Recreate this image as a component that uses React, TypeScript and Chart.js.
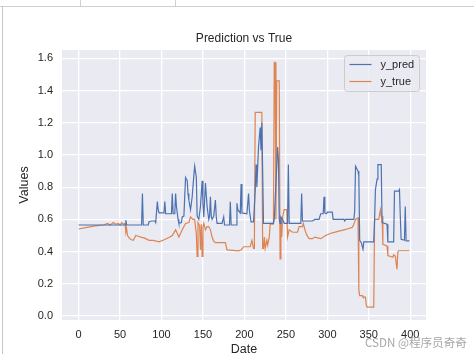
import React, { useEffect, useRef } from "react";
import { Chart, registerables } from "chart.js";

Chart.register(...registerables);

const TITLE = "Prediction vs True";
const X_LABEL = "Date";
const Y_LABEL = "Values";
const SERIES_NAMES = ["y_pred", "y_true"];
const xTicks = [0, 50, 100, 150, 200, 250, 300, 350, 400];
const yTicks = [0.0, 0.2, 0.4, 0.6, 0.8, 1.0, 1.2, 1.4, 1.6];

// y_pred (index, value)
const predX = [0, 56, 57, 58, 76, 77, 78, 84, 85, 88, 92, 93, 95, 96, 97, 103, 104, 105, 112, 113, 114, 116, 117, 118, 120, 121, 124, 125, 127, 129, 131, 132, 133, 135, 137, 139, 140, 142, 143, 145, 147, 149, 150, 151, 153, 155, 157, 158, 159, 160, 161, 163, 165, 166, 167, 173, 175, 176, 182, 183, 184, 190, 191, 192, 195, 196, 197, 203, 205, 206, 208, 211, 213, 214, 215, 217, 219, 220, 221, 222, 223, 235, 236, 238, 240, 241, 242, 243, 244, 246, 248, 252, 253, 254, 268, 269, 270, 282, 285, 290, 292, 295, 296, 297, 299, 300, 306, 307, 320, 321, 322, 332, 333, 334, 336, 337, 338, 339, 341, 343, 344, 356, 357, 358, 360, 361, 365, 366, 372, 373, 380, 381, 386, 387, 388, 389, 393, 394, 395, 399];
const predY = [0.565, 0.565, 0.595, 0.565, 0.565, 0.76, 0.565, 0.565, 0.585, 0.59, 0.59, 0.58, 0.71, 0.66, 0.64, 0.64, 0.71, 0.635, 0.635, 0.76, 0.635, 0.635, 0.76, 0.68, 0.6, 0.575, 0.58, 0.615, 0.62, 0.86, 0.84, 0.76, 0.72, 0.66, 0.74, 0.87, 0.93, 0.86, 0.62, 0.6, 0.68, 0.84, 0.7, 0.615, 0.825, 0.68, 0.6, 0.62, 0.74, 0.62, 0.6, 0.62, 0.72, 0.62, 0.575, 0.575, 0.615, 0.565, 0.565, 0.71, 0.565, 0.565, 0.7, 0.66, 0.64, 0.82, 0.64, 0.635, 0.76, 0.655, 0.585, 0.585, 0.78, 0.94, 0.8, 1.05, 1.17, 1.03, 1.2, 0.9, 0.575, 0.575, 0.6, 0.82, 1.05, 0.97, 0.6, 0.575, 0.615, 0.6, 0.575, 0.575, 0.94, 0.575, 0.575, 0.76, 0.59, 0.59, 0.6, 0.6, 0.635, 0.635, 0.74, 0.64, 0.635, 0.645, 0.645, 0.6, 0.6, 0.59, 0.6, 0.6, 0.65, 0.93, 0.91, 0.9, 0.87, 0.47, 0.455, 0.415, 0.46, 0.46, 0.6, 0.785, 0.85, 0.94, 0.94, 0.58, 0.57, 0.46, 0.46, 0.775, 0.775, 0.785, 0.62, 0.476, 0.47, 0.68, 0.466, 0.466];

// y_true (index, value)
const trueX = [0, 10, 20, 30, 35, 38, 42, 45, 48, 50, 52, 54, 56, 57, 58, 59, 61, 63, 66, 69, 72, 75, 79, 85, 90, 97, 104, 110, 113, 117, 121, 125, 129, 133, 135, 138, 140, 142, 143, 144, 146, 147, 148, 149, 150, 151, 153, 155, 157, 159, 161, 163, 165, 177, 179, 193, 196, 199, 207, 209, 211, 212, 213, 221, 222, 223, 224, 225, 227, 228, 230, 231, 235, 236, 237, 238, 239, 242, 243, 244, 245, 246, 248, 251, 252, 254, 258, 264, 266, 270, 271, 273, 275, 278, 282, 285, 292, 298, 305, 314, 320, 325, 330, 332, 334, 337, 338, 339, 342, 343, 346, 347, 348, 356, 357, 362, 364, 365, 366, 367, 372, 373, 379, 380, 382, 384, 385, 386, 399];
const trueY = [0.54, 0.55, 0.56, 0.565, 0.575, 0.565, 0.58, 0.57, 0.575, 0.565, 0.58, 0.57, 0.575, 0.52, 0.54, 0.5, 0.485, 0.475, 0.47, 0.5, 0.495, 0.49, 0.485, 0.47, 0.47, 0.46, 0.475, 0.49, 0.5, 0.535, 0.49, 0.535, 0.575, 0.58, 0.615, 0.6, 0.6, 0.51, 0.37, 0.58, 0.56, 0.41, 0.57, 0.37, 0.55, 0.575, 0.535, 0.555, 0.555, 0.535, 0.49, 0.465, 0.455, 0.455, 0.41, 0.405, 0.41, 0.43, 0.43, 0.47, 0.42, 0.42, 1.265, 1.265, 0.42, 0.42, 0.49, 0.42, 0.47, 0.44, 0.49, 0.57, 0.57, 1.575, 1.575, 0.6, 1.46, 1.46, 0.355, 0.615, 0.49, 0.615, 0.66, 0.66, 0.49, 0.535, 0.52, 0.52, 0.555, 0.555, 0.575, 0.535, 0.505, 0.48, 0.48, 0.49, 0.48, 0.5, 0.515, 0.527, 0.535, 0.542, 0.55, 0.57, 0.6, 0.61, 0.16, 0.127, 0.127, 0.117, 0.117, 0.066, 0.055, 0.055, 0.6, 0.6, 0.66, 0.62, 0.62, 0.445, 0.435, 0.375, 0.365, 0.38, 0.37, 0.29, 0.395, 0.405, 0.405];

const COLORS = ["#4C72B0", "#DD8452"];
const FONT = "'Liberation Sans', Arial, sans-serif";
const INK = "#262626";

const decorPlugin = {
  id: "decor",
  beforeDraw(chart: any) {
    const { ctx, chartArea: a, width, height } = chart;
    ctx.save();
    ctx.fillStyle = "#ffffff";
    ctx.fillRect(0, 0, width, height);
    ctx.fillStyle = "#EAEAF2";
    ctx.fillRect(a.left, a.top, a.right - a.left, a.bottom - a.top);
    ctx.restore();
  },
  afterDraw(chart: any) {
    const { ctx, chartArea: a } = chart;
    ctx.save();
    const cx = (a.left + a.right) / 2;
    ctx.fillStyle = INK;
    ctx.textAlign = "center";
    ctx.textBaseline = "middle";
    ctx.font = `12px ${FONT}`;
    ctx.fillText(TITLE, cx, a.top - 11);
    ctx.font = `12.5px ${FONT}`;
    ctx.fillText(X_LABEL, cx, a.bottom + 30);
    ctx.save();
    ctx.translate(25, (a.top + a.bottom) / 2);
    ctx.rotate(-Math.PI / 2);
    ctx.fillText(Y_LABEL, 0, 0);
    ctx.restore();

    // legend
    const bx = a.right - 81.5;
    const by = a.top + 5.5;
    const bw = 75;
    const bh = 36;
    ctx.beginPath();
    (ctx as any).roundRect(bx, by, bw, bh, 3);
    ctx.fillStyle = "rgba(234,234,242,0.8)";
    ctx.fill();
    ctx.strokeStyle = "#cccccc";
    ctx.lineWidth = 1;
    ctx.stroke();
    ctx.font = `11px ${FONT}`;
    ctx.textAlign = "left";
    SERIES_NAMES.forEach((name, i) => {
      const y = by + 9 + i * 17;
      ctx.beginPath();
      ctx.moveTo(bx + 5, y);
      ctx.lineTo(bx + 27, y);
      ctx.strokeStyle = COLORS[i];
      ctx.lineWidth = 1.2;
      ctx.stroke();
      ctx.fillStyle = INK;
      ctx.fillText(name, bx + 36, y);
    });
    ctx.restore();
  },
};

export default function App() {
  const ref = useRef<HTMLCanvasElement | null>(null);
  useEffect(() => {
    if (!ref.current) return;
    const mk = (xs: number[], ys: number[]) => xs.map((x, i) => ({ x, y: ys[i] }));
    const chart = new Chart(ref.current, {
      type: "line",
      data: {
        datasets: [
          { label: SERIES_NAMES[0], data: mk(predX, predY), borderColor: COLORS[0], borderWidth: 1.2, pointRadius: 0, tension: 0, fill: false },
          { label: SERIES_NAMES[1], data: mk(trueX, trueY), borderColor: COLORS[1], borderWidth: 1.2, pointRadius: 0, tension: 0, fill: false },
        ],
      },
      options: {
        responsive: false,
        animation: false,
        devicePixelRatio: 1,
        layout: { padding: { left: 0, top: 50, right: 48, bottom: 0 } },
        plugins: { legend: { display: false }, title: { display: false }, tooltip: { enabled: false } },
        scales: {
          x: {
            type: "linear",
            min: -20,
            max: 419,
            afterBuildTicks: (s: any) => { s.ticks = xTicks.map((v) => ({ value: v })); },
            afterFit: (s: any) => { s.height = 34; },
            ticks: { font: { family: FONT, size: 11 }, color: INK, padding: 8, maxRotation: 0, autoSkip: false, callback: (v: any) => String(v) },
            grid: { color: "#ffffff", lineWidth: 1.3, drawTicks: false },
            border: { display: false },
          },
          y: {
            type: "linear",
            min: -0.025,
            max: 1.652,
            afterBuildTicks: (s: any) => { s.ticks = yTicks.map((v) => ({ value: v })); },
            afterFit: (s: any) => { s.width = 62; },
            ticks: { font: { family: FONT, size: 11 }, color: INK, padding: 9, autoSkip: false, callback: (v: any) => Number(v).toFixed(1) },
            grid: { color: "#ffffff", lineWidth: 1.3, drawTicks: false },
            border: { display: false },
          },
        },
      },
      plugins: [decorPlugin],
    });
    return () => chart.destroy();
  }, []);

  return (
    <div style={{ position: "fixed", left: 0, top: 0, width: 474, height: 354, background: "#fff", overflow: "hidden" }}>
      <canvas ref={ref} width={474} height={354} style={{ position: "absolute", left: 0, top: 0, width: 474, height: 354 }} />
      <div style={{ position: "absolute", left: 0, top: 6, width: 474, height: 1, background: "#d0d0d0" }} />
      <div style={{ position: "absolute", left: 2, top: 6, width: 1, height: 348, background: "#c8c8c8" }} />
      <div style={{ position: "absolute", left: 80, top: 0, width: 1, height: 6, background: "#d0d0d0" }} />
      <div style={{ position: "absolute", left: 175, top: 0, width: 1, height: 6, background: "#d0d0d0" }} />
      <div style={{ position: "absolute", left: 365, top: 335, fontFamily: "'Noto Sans CJK SC', sans-serif", fontSize: 11.6, lineHeight: "14px", color: "rgba(150,150,150,0.85)", whiteSpace: "nowrap" }}>
        CSDN @程序员奇奇
      </div>
    </div>
  );
}
